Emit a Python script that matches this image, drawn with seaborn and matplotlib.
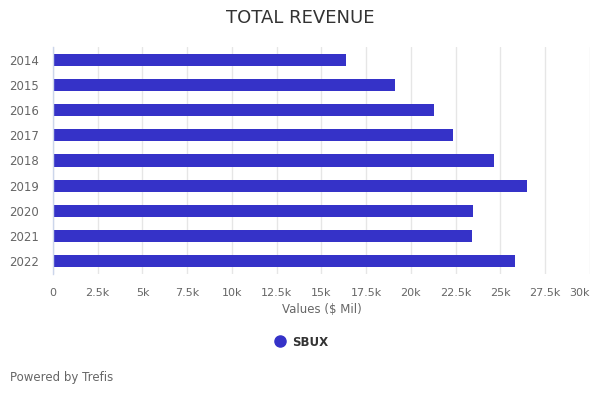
import matplotlib
matplotlib.use("Agg")
import matplotlib.pyplot as plt
from matplotlib.lines import Line2D
from matplotlib.ticker import FuncFormatter
import seaborn as sns
import pandas as pd

# Data (values in $ Mil)
years = ["2014", "2015", "2016", "2017", "2018", "2019", "2020", "2021", "2022"]
revenue = [16370, 19100, 21280, 22350, 24640, 26480, 23460, 23410, 25810]
series_name = "SBUX"

c_bar = "#3532C8"
c_text = "#666666"
c_grid = "#e6e6e6"
c_axis = "#ccd6eb"

df = pd.DataFrame({"year": years, "revenue": revenue})

sns.set_style("white")
plt.rcParams["font.family"] = ["DejaVu Sans"]

fig = plt.figure(figsize=(6, 4), dpi=100)
ax = fig.add_axes([0.0883, 0.315, 0.8947, 0.5675])

sns.barplot(data=df, x="revenue", y="year", orient="h", color=c_bar,
            width=0.48, saturation=1, linewidth=0, ax=ax)

ax.set_xlim(0, 30000)
ax.set_ylim(8.5, -0.5)
ax.set_xticks(range(0, 30001, 2500))
ax.xaxis.set_major_formatter(FuncFormatter(
    lambda v, p: "0" if v == 0 else (f"{v/1000:g}k")))
ax.grid(axis="x", color=c_grid, linewidth=1)
ax.set_axisbelow(True)

for s in ["top", "right", "bottom"]:
    ax.spines[s].set_visible(False)
ax.spines["left"].set_color(c_axis)
ax.spines["left"].set_linewidth(1)

ax.tick_params(axis="x", colors=c_text, labelsize=8, length=4, color=c_axis,
               pad=6)
ax.tick_params(axis="y", colors=c_text, labelsize=8.5, length=0, pad=10)
# last label sits inside the chart edge
ax.get_xticklabels()[-1].set_horizontalalignment("right")
ax.get_xticklabels()[-1].set_x(30000)
ax.set_xlabel("Values ($ Mil)", color=c_text, fontsize=8.5, labelpad=4)
ax.set_ylabel("")

fig.text(0.5, 0.955, "TOTAL REVENUE", ha="center", va="center",
         fontsize=13, color="#333333")

handle = Line2D([], [], marker="o", linestyle="", markersize=8,
                markerfacecolor=c_bar, markeredgecolor=c_bar)
fig.legend([handle], [series_name], loc="center", bbox_to_anchor=(0.497, 0.145),
           frameon=False, handletextpad=0.1,
           prop={"weight": "bold", "size": 8.5}, labelcolor="#333333")

fig.text(0.017, 0.055, "Powered by Trefis", ha="left", va="center",
         fontsize=8.5, color=c_text)

fig.savefig("out.png", dpi=100)
plt.close(fig)
